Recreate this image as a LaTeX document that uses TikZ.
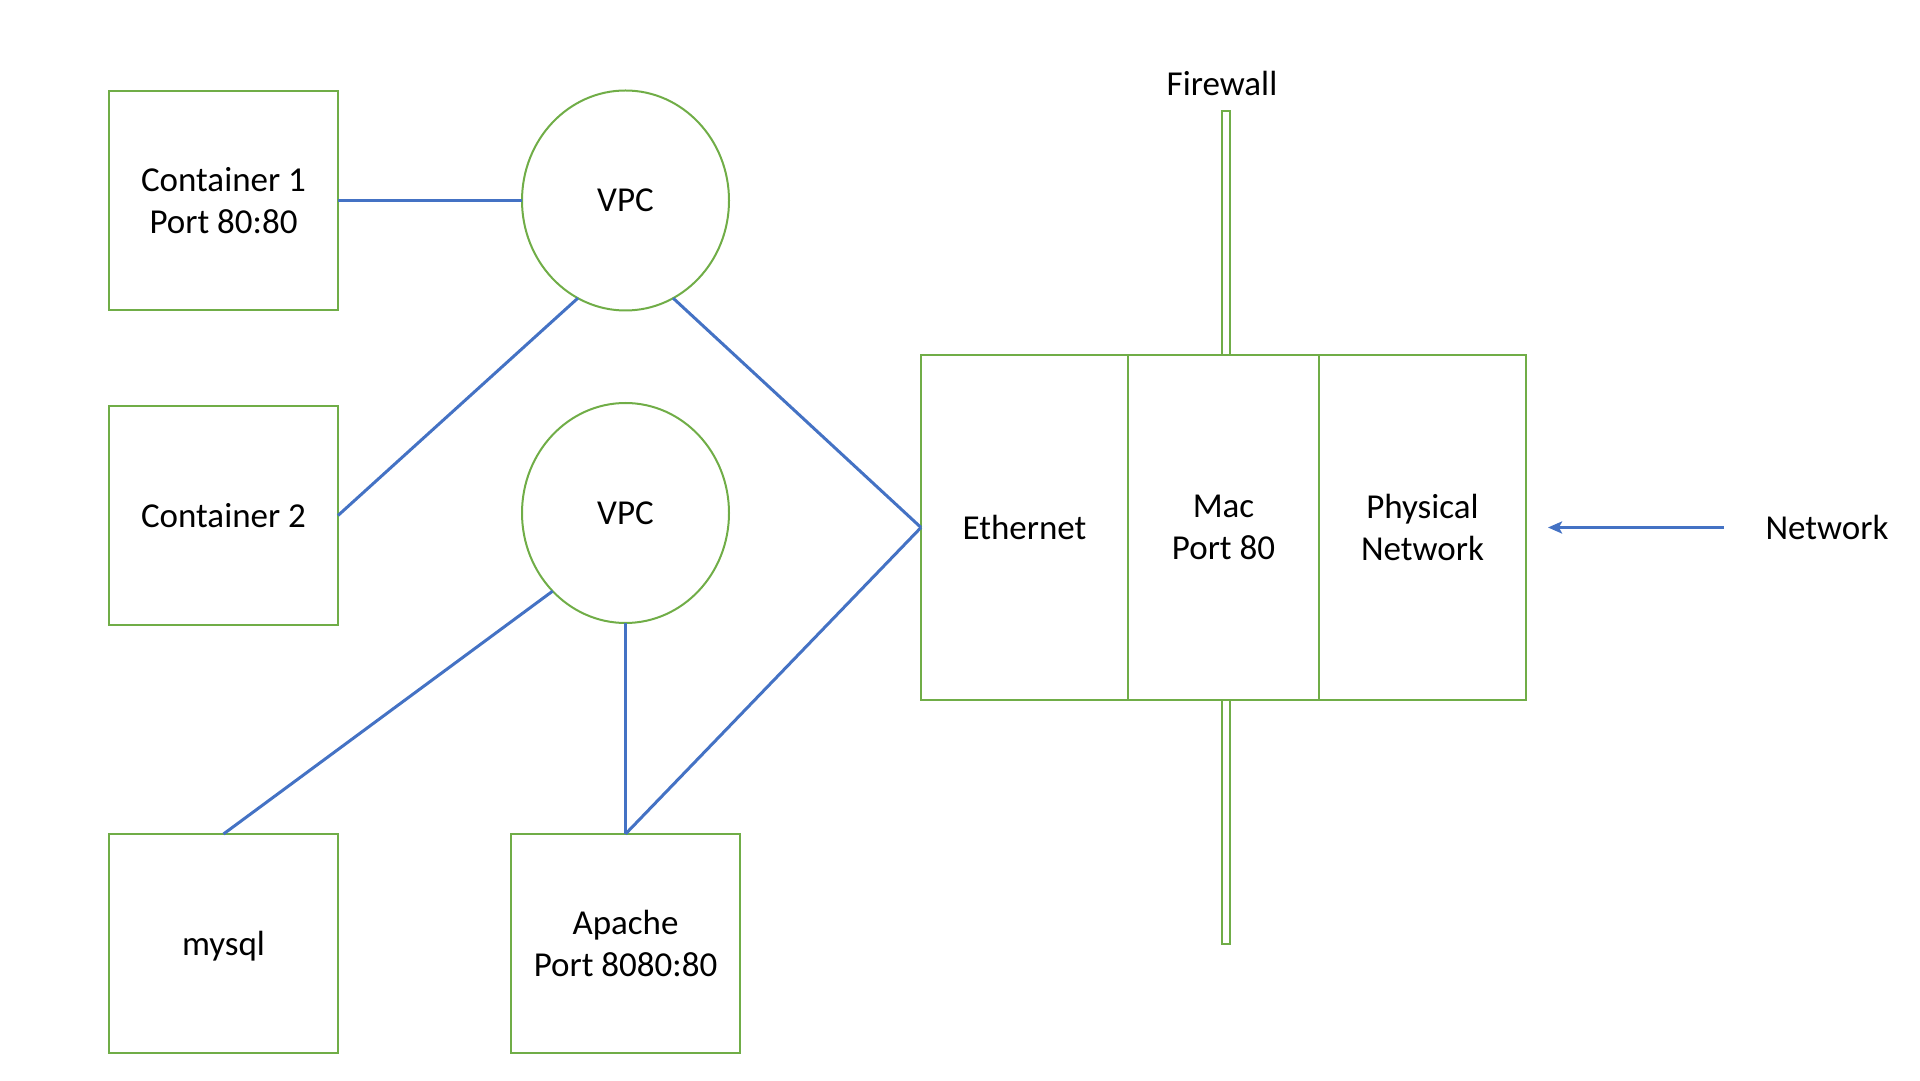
\documentclass[tikz,border=0pt]{standalone}
\usepackage{fontspec}
\setmainfont{Carlito}
\usetikzlibrary{arrows.meta,positioning,shapes.geometric}

\definecolor{boxgreen}{HTML}{70AD47}
\definecolor{linkblue}{HTML}{4472C4}

\begin{document}
\begin{tikzpicture}[
    x = 1pt, y = 1pt, % one unit = one pixel
    font = \fontsize{35}{42}\selectfont,
    link/.style = {draw = linkblue, line width = 3pt}, % blue connectors
    semithick
    ]

    \tikzset{
    box/.style = {draw = boxgreen, line width = 2pt, fill = white,
        minimum width = 229pt, minimum height = 219pt,
        inner sep = 0pt, outer sep = 0pt, align = center},
    vpc/.style = {ellipse, draw = boxgreen, line width = 2pt,
        minimum width = 207pt, minimum height = 220pt,
        inner sep = 0pt, outer sep = 0pt},
    wall/.style = {draw = boxgreen, line width = 2pt, fill = white,
        minimum width = 8pt, minimum height = 244pt,
        inner sep = 0pt, outer sep = 0pt}
    }

    \useasboundingbox (0,0) rectangle (1920,1080);

    % containers and the two VPCs
    \node[box] (c1) at (223.5,879.5) {Container 1\\Port 80:80};
    \node[box] (c2) [below=96pt of c1] {Container 2};
    \node[box, text depth=0pt] (mysql) [below=209pt of c2] {mysql};
    \node[box] (apache) [right=173pt of mysql] {Apache\\Port 8080:80};
    \node[vpc] (vpc1) [right=184pt of c1] {VPC};
    \node[vpc] (vpc2) [above=211pt of apache] {VPC};

    % the host
    \node[box, minimum width=207pt, minimum height=345pt] (eth) at (1024.5,552.5) {Ethernet};
    \node[box, minimum width=191pt, minimum height=345pt] (mac) [right=0pt of eth] {Mac\\Port 80};
    \node[box, minimum width=207pt, minimum height=345pt] (phys) [right=0pt of mac] {Physical\\Network};

    % firewall
    \node[wall, anchor=south] (fwup) at ([xshift=2.5pt]mac.north) {};
    \node[wall, anchor=north] (fwdown) at ([xshift=2.5pt]mac.south) {};
    \node (fw) [above=12pt of fwup, xshift=-4pt] {Firewall};

    \node (net) at (1827,552.5) {Network};
    \coordinate (netend) at ([xshift=22pt]phys.east);

    \path[link] (c1.east) edge (vpc1.west);
    \path[link] (vpc1.-116) edge (c2.east);
    \path[link] (vpc1.-64) edge (eth.west);
    \path[link] (vpc2.-133) edge (mysql.north);
    \path[link] (vpc2.south) edge (apache.north);
    \path[link] (apache.north) edge (eth.west);
    \draw[link, -{Stealth[length=14pt, width=12pt, inset=3pt]}, shorten <= 38pt] (net.west) -- (netend);
\end{tikzpicture}
\end{document}
